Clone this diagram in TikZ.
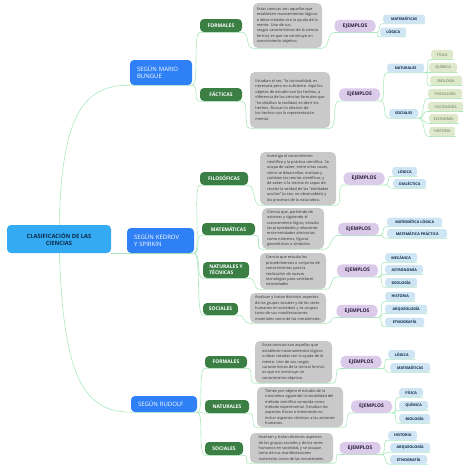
\documentclass[tikz,border=0pt]{standalone}
\usepackage{fontspec}
\setmainfont{Open Sans}
\usetikzlibrary{backgrounds}
\definecolor{rootc}{HTML}{33AAF2}
\definecolor{lvtwo}{HTML}{2F7FF5}
\definecolor{grn}{HTML}{3B7F45}
\definecolor{gry}{HTML}{C9C9C9}
\definecolor{ejc}{HTML}{DCCAEA}
\definecolor{lfb}{HTML}{CFE5F4}
\definecolor{lfg}{HTML}{DDE9CA}
\definecolor{lnc}{HTML}{A9E8BC}
\definecolor{navy}{HTML}{0E2A47}
\definecolor{ejtext}{HTML}{2A1F3D}
\definecolor{gtext}{HTML}{333333}
\definecolor{lgtext}{HTML}{5B6B4B}
\tikzset{
  rootbox/.style={rounded corners=4pt, fill=rootc, text=navy, inner sep=1pt,
    font=\fontsize{5.8}{7}\selectfont\bfseries, align=center,
    minimum width=104pt, minimum height=28pt},
  lvbox/.style={rounded corners=4pt, fill=lvtwo, text=white, inner xsep=7pt, inner ysep=2pt,
    font=\fontsize{6}{7.2}\selectfont, align=left},
  catbox/.style={rounded corners=4pt, fill=grn, text=white, inner sep=1pt,
    font=\fontsize{5}{6}\selectfont\bfseries, align=center},
  notebox/.style={rounded corners=5pt, fill=gry, text=gtext, inner sep=2pt,
    font=\fontsize{3.85}{5.4}\selectfont, align=left},
  ejbox/.style={rounded corners=5pt, fill=ejc, text=ejtext, inner sep=1pt,
    font=\fontsize{5}{6}\selectfont\bfseries, minimum width=41pt, minimum height=12.5pt},
  leafb/.style={rounded corners=3pt, fill=lfb, text=navy, inner sep=1pt, anchor=west,
    font=\fontsize{3.7}{4}\selectfont\bfseries, minimum height=9pt},
  leafg/.style={rounded corners=3pt, fill=lfg, text=lgtext, inner sep=1pt, anchor=west,
    font=\fontsize{3.7}{4}\selectfont, minimum height=9.5pt},
  conn/.style={draw=lnc, line width=0.6pt}
}
\newcommand\cn[2]{\draw[conn] (#1.south east) .. controls +(7,0) and +(-7,0) .. (#2.south west) -- (#2.south east);}
\begin{document}
\begin{tikzpicture}[x=1pt,y=-1pt]
\useasboundingbox (0,0) rectangle (474,474);
% root and level 2
\node[rootbox] (root) at (59,239) {CLASIFICACIÓN DE LAS\\CIENCIAS};
\node[lvbox, text width=48pt, minimum height=25pt] (bun) at (161,72.5) {SEGÚN MARIO\\BUNGUE};
\node[lvbox, text width=53pt, minimum height=25pt] (ked) at (160.5,240.5) {SEGÚN KEDROV\\Y SPIRKIN};
\node[lvbox, text width=52pt, minimum height=16pt] (rud) at (164,404) {SEGÚN RUDOLF};
% level 3
\node[catbox, minimum width=42pt, minimum height=13pt] (bf) at (221,25.5) {FORMALES};
\node[catbox, minimum width=42pt, minimum height=13pt] (bfa) at (221,94.5) {FÁCTICAS};
\node[catbox, minimum width=48pt, minimum height=13pt] (kfil) at (224,178.5) {FILOSÓFICAS};
\node[catbox, minimum width=53pt, minimum height=12pt] (kmat) at (228.5,229) {MATEMÁTICAS};
\node[catbox, minimum width=46pt, minimum height=16pt, align=left] (knat) at (226,270) {NATURALES Y\\TÉCNICAS};
\node[catbox, minimum width=35pt, minimum height=12pt] (ksoc) at (220.5,309) {SOCIALES};
\node[catbox, minimum width=42pt, minimum height=12pt] (rf) at (226,362) {FORMALES};
\node[catbox, minimum width=44pt, minimum height=13pt] (rn) at (227,406.5) {NATURALES};
\node[catbox, minimum width=38pt, minimum height=13pt] (rs) at (224,448.5) {SOCIALES};
% notes
\node[notebox, minimum width=69pt, minimum height=45pt] (g1) at (287.5,25.5) {Estas ciencias son aquellas que\\establecen razonamientos lógicos\\o ideas creadas con la ayuda de la\\mente. Uno de sus\\rasgos característicos de la ciencia\\formal, es que no construye un\\conocimiento objetivo.};
\node[notebox, minimum width=80pt, minimum height=56pt] (g2) at (290,100) {Estudian el ser, "la racionalidad, es\\necesaria pero no suficiente. Aquí los\\objetos de estudio son los hechos, a\\diferencia de las ciencias formales que\\"no detallan la realidad, es decir los\\hechos. Buscan la relación de\\los hechos con la representación\\mental.};
\node[notebox, minimum width=76pt, minimum height=53pt] (g3) at (298,178.5) {Investiga el conocimiento\\científico y la práctica científica. Se\\ocupa de saber, entre otras cosas,\\cómo se desarrollan, evalúan y\\cambian las teorías científicas, y\\de saber si la ciencia es capaz de\\revelar la verdad de las "entidades\\ocultas" (o sea, no observables) y\\los procesos de la naturaleza.};
\node[notebox, minimum width=62pt, minimum height=41pt] (g4) at (293,228.5) {Ciencia que, partiendo de\\axiomas y siguiendo el\\razonamiento lógico, estudia\\las propiedades y relaciones\\entre entidades abstractas\\como números, figuras\\geométricas o símbolos.};
\node[notebox, minimum width=66pt, minimum height=36pt] (g5) at (293,271) {Ciencia que estudia los\\procedimientos o conjunto de\\conocimientos para la\\realización de nuevas\\tecnologías para satisfacer\\necesidades};
\node[notebox, minimum width=76pt, minimum height=30pt] (g6) at (288,308) {Analizan y tratan distintos aspectos\\de los grupos sociales y de los seres\\humanos en sociedad, y se ocupan\\tanto de sus manifestaciones\\materiales como de las inmateriales.};
\node[notebox, minimum width=77pt, minimum height=42pt] (g7) at (293.5,362) {Estas ciencias son aquellas que\\establecen razonamientos lógicos\\o ideas creadas con la ayuda de la\\mente. Uno de sus rasgos\\característicos de la ciencia formal,\\es que no construye un\\conocimiento objetivo.};
\node[notebox, minimum width=86pt, minimum height=40pt] (g8) at (300,407) {Tienen por objeto el estudio de la\\naturaleza siguiendo la modalidad del\\método científico conocida como\\método experimental. Estudian los\\aspectos físicos e intentando no\\incluir aspectos relativos a las acciones\\humanas.};
\node[notebox, minimum width=83pt, minimum height=30pt] (g9) at (291.5,448) {Analizan y tratan distintos aspectos\\de los grupos sociales y de los seres\\humanos en sociedad, y se ocupan\\tanto de sus manifestaciones\\materiales como de las inmateriales.};
% ejemplos
\node[ejbox] (e1) at (355,26) {EJEMPLOS};
\node[ejbox] (e2) at (359.5,94.5) {EJEMPLOS};
\node[ejbox] (e3) at (364,178.5) {EJEMPLOS};
\node[ejbox] (e4) at (358.5,229) {EJEMPLOS};
\node[ejbox] (e5) at (357.5,270.5) {EJEMPLOS};
\node[ejbox] (e6) at (357,311) {EJEMPLOS};
\node[ejbox] (e7) at (361,362) {EJEMPLOS};
\node[ejbox] (e8) at (371.5,406.5) {EJEMPLOS};
\node[ejbox] (e9) at (360,448) {EJEMPLOS};
% leaves
\node[leafb, minimum width=42pt] (a1) at (383,19) {MATEMÁTICAS};
\node[leafb, minimum width=26pt] (a2) at (380,32) {LÓGICA};
\node[leafb, minimum width=37pt] (bnat) at (387,68) {NATURALES};
\node[leafb, minimum width=29pt] (bsoc) at (389,113.5) {SOCIALES};
\node[leafg, minimum width=22pt] (b1) at (431,54.5) {FÍSICA};
\node[leafg, minimum width=28pt] (b2) at (429,67.5) {QUÍMICA};
\node[leafg, minimum width=32pt] (b3) at (430,80.5) {BIOLOGÍA};
\node[leafg, minimum width=34pt] (b4) at (428,93.5) {PSICOLOGÍA};
\node[leafg, minimum width=35pt] (b5) at (428,106.5) {SOCIOLOGÍA};
\node[leafg, minimum width=29pt] (b6) at (429,118.5) {ECONOMÍA};
\node[leafg, minimum width=26pt] (b7) at (429,131.5) {HISTORIA};
\node[leafb, minimum width=25pt] (c1) at (392,171.5) {LÓGICA};
\node[leafb, minimum width=33pt] (c2) at (393,183.5) {DIALÉCTICA};
\node[leafb, minimum width=55pt] (d1) at (387,222) {MATEMÁTICA LÓGICA};
\node[leafb, minimum width=60pt] (d2) at (387,233.5) {MATEMÁTICA PRÁCTICA};
\node[leafb, minimum width=32pt] (f1) at (385,257.5) {MECÁNICA};
\node[leafb, minimum width=38pt] (f2) at (385,269.5) {ASTRONOMÍA};
\node[leafb, minimum width=32pt] (f3) at (385,282.5) {GEOLOGÍA};
\node[leafb, minimum width=30pt] (h1) at (385,296.5) {HISTORIA};
\node[leafb, minimum width=42pt] (h2) at (385,309) {ARQUEOLOGÍA};
\node[leafb, minimum width=39pt] (h3) at (385,322) {ETNOGRAFÍA};
\node[leafb, minimum width=27pt] (i1) at (388,354.5) {LÓGICA};
\node[leafb, minimum width=40pt] (i2) at (390,367.5) {MATEMÁTICAS};
\node[leafb, minimum width=24pt] (j1) at (399,392.5) {FÍSICA};
\node[leafb, minimum width=29pt] (j2) at (399,405.5) {QUÍMICA};
\node[leafb, minimum width=31pt] (j3) at (399,418.5) {BIOLOGÍA};
\node[leafb, minimum width=29pt] (k1) at (388,435.5) {HISTORIA};
\node[leafb, minimum width=40pt] (k2) at (390,447.5) {ARQUEOLOGÍA};
\node[leafb, minimum width=37pt] (k3) at (390,459.5) {ETNOGRAFÍA};
% connectors
\begin{pgfonlayer}{background}
\draw[conn] (root.center) .. controls (60,120) and (80,85) .. (bun.south west) -- (bun.south east);
\cn{root}{ked}
\draw[conn] (root.center) .. controls (62,370) and (80,412) .. (rud.south west) -- (rud.south east);
\cn{bun}{bf}\cn{bun}{bfa}
\cn{ked}{kfil}\cn{ked}{kmat}\cn{ked}{knat}\cn{ked}{ksoc}
\cn{rud}{rf}\cn{rud}{rn}\cn{rud}{rs}
\cn{bf}{g1}\cn{bfa}{g2}\cn{kfil}{g3}\cn{kmat}{g4}\cn{knat}{g5}\cn{ksoc}{g6}
\cn{rf}{g7}\cn{rn}{g8}\cn{rs}{g9}
\cn{g1}{e1}\cn{g2}{e2}\cn{g3}{e3}\cn{g4}{e4}\cn{g5}{e5}\cn{g6}{e6}
\cn{g7}{e7}\cn{g8}{e8}\cn{g9}{e9}
\cn{e1}{a1}\cn{e1}{a2}
\cn{e2}{bnat}\cn{e2}{bsoc}
\cn{bnat}{b1}\cn{bnat}{b2}\cn{bnat}{b3}
\cn{bsoc}{b4}\cn{bsoc}{b5}\cn{bsoc}{b6}\cn{bsoc}{b7}
\cn{e3}{c1}\cn{e3}{c2}
\cn{e4}{d1}\cn{e4}{d2}
\cn{e5}{f1}\cn{e5}{f2}\cn{e5}{f3}
\cn{e6}{h1}\cn{e6}{h2}\cn{e6}{h3}
\cn{e7}{i1}\cn{e7}{i2}
\cn{e8}{j1}\cn{e8}{j2}\cn{e8}{j3}
\cn{e9}{k1}\cn{e9}{k2}\cn{e9}{k3}
\end{pgfonlayer}
\end{tikzpicture}
\end{document}
